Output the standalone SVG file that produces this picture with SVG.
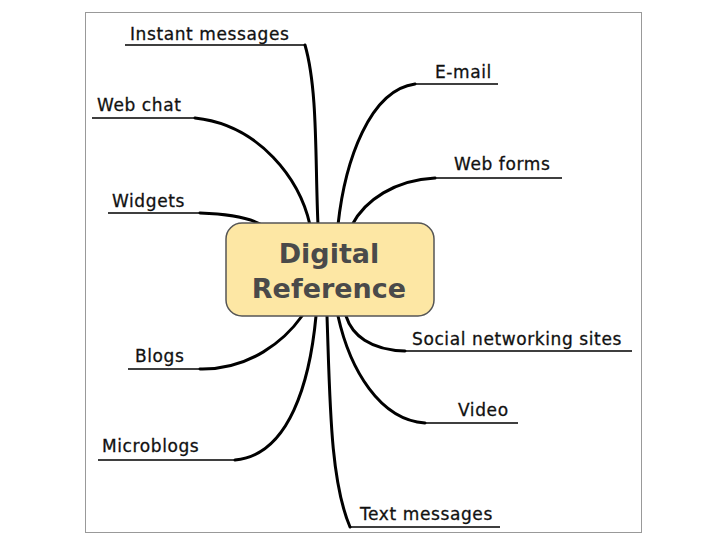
<svg xmlns="http://www.w3.org/2000/svg" width="728" height="546" viewBox="0 0 728 546">
<style>
.b{fill:none;stroke:#000;stroke-width:3;stroke-linecap:round}
.u{fill:none;stroke:#000;stroke-width:1.3}
.t{font-family:"DejaVu Sans",sans-serif;font-size:17px;letter-spacing:0.6px;fill:#111;stroke:#111;stroke-width:0.3}
</style>
<rect width="728" height="546" fill="#fff"/>
<rect x="85.5" y="12.5" width="556" height="520" fill="none" stroke="#999" stroke-width="1"/>
<g id="connectors">
<path class="b" d="M305,45 C318,90 315,160 318,225"/>
<path class="b" d="M415,84 C370,90 345,160 338,225"/>
<path class="b" d="M435,178 C395,180 365,200 352,225"/>
<path class="b" d="M195,118 C260,125 300,180 310,225"/>
<path class="b" d="M200,213 C230,214 250,218 262,225"/>
<path class="b" d="M200,369 C250,370 285,340 302,316"/>
<path class="b" d="M235,460 C290,455 310,380 316,316"/>
<path class="b" d="M405,351 C370,350 352,335 346,316"/>
<path class="b" d="M425,423 C380,420 350,370 338,316"/>
<path class="b" d="M350,527 C330,480 330,400 327,316"/>
<path class="u" d="M125,45H305M415,84H498M435,178H562M92,118H195M108,213H200M128,369H200M98,460H235M405,351H632M425,423H518M350,527H500"/>
</g>
<g id="center">
<rect x="226" y="223" width="208" height="93" rx="16" fill="#fde7a4" stroke="#555" stroke-width="1.5"/>
<text x="329" y="263" text-anchor="middle" font-family="DejaVu Sans,sans-serif" font-size="27" font-weight="bold" fill="#4a4a4a">Digital</text>
<text x="329" y="298" text-anchor="middle" font-family="DejaVu Sans,sans-serif" font-size="27" font-weight="bold" fill="#4a4a4a">Reference</text>
</g>
<g id="n1"><text class="t" x="130" y="40">Instant messages</text></g>
<g id="n2"><text class="t" x="435" y="78">E-mail</text></g>
<g id="n3"><text class="t" x="454" y="170">Web forms</text></g>
<g id="n4"><text class="t" x="97" y="111">Web chat</text></g>
<g id="n5"><text class="t" x="112" y="207">Widgets</text></g>
<g id="n6"><text class="t" x="135" y="362">Blogs</text></g>
<g id="n7"><text class="t" x="102" y="452">Microblogs</text></g>
<g id="n8"><text class="t" x="412" y="345">Social networking sites</text></g>
<g id="n9"><text class="t" x="458" y="416">Video</text></g>
<g id="n10"><text class="t" x="360" y="520">Text messages</text></g>
</svg>
